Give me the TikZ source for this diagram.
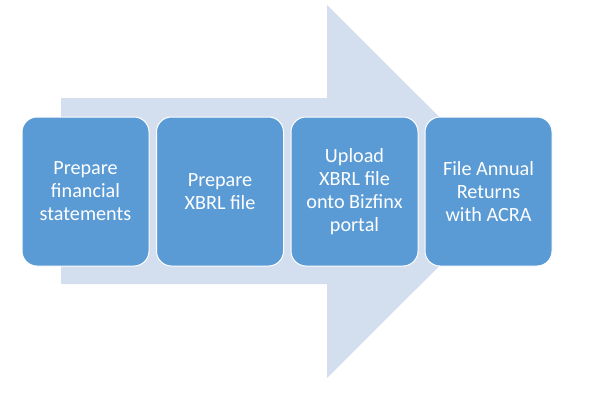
\documentclass[tikz,border=0pt]{standalone}
\usepackage{fontspec}
\setmainfont{Carlito}
\definecolor{arrowfill}{HTML}{D3DEEF}
\definecolor{boxfill}{HTML}{5B9BD5}
\tikzset{
  stepbox/.style={draw=white, line width=1pt, fill=boxfill, rounded corners=15pt,
    minimum width=127pt, minimum height=149pt, inner sep=0pt, text=white,
    align=center, font=\fontsize{20.2pt}{23pt}\selectfont}
}
\begin{document}
\begin{tikzpicture}[x=1pt,y=-1pt]
\useasboundingbox (0,0) rectangle (599,410);
\fill[arrowfill] (61,98) -- (327,98) -- (327,5) -- (514,191.5) -- (327,378) -- (327,284) -- (61,284) -- cycle;
\node[stepbox] (s1) at (85.5,191.5) {Prepare\\financial\\statements};
\node[stepbox] (s2) at (220,191.5) {Prepare\\XBRL file};
\node[stepbox] (s3) at (354.5,191.5) {Upload\\XBRL file\\onto Bizfinx\\portal};
\node[stepbox] (s4) at (488.5,191.5) {File Annual\\Returns\\with ACRA};
\end{tikzpicture}
\end{document}
